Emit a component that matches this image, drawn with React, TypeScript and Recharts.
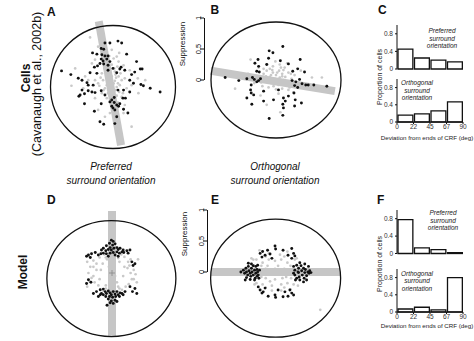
import React from "react";
import {
  ScatterChart,
  Scatter,
  XAxis,
  YAxis,
  ReferenceDot,
  BarChart,
  Bar,
} from "recharts";

type Pair = [number, number];
type Pt = { x: number; y: number };

const pts = (list: Pair[]): Pt[] => list.map(([x, y]) => ({ x, y }));

// positions in suppression units, origin = RF centre
const cellsPrefBlack: Pair[] = [
  [-0.13, 0.71], [-0.05, 0.71], [0.08, 0.74], [0.14, 0.71], [-0.19, 0.62], [-0.15, 0.61],
  [-0.33, 0.55], [-0.26, 0.53], [-0.18, 0.52], [-0.13, 0.5], [-0.08, 0.5], [0.22, 0.53],
  [-0.19, 0.45], [-0.16, 0.42], [-0.1, 0.45], [-0.05, 0.41], [-0.21, 0.38], [-0.15, 0.37],
  [-0.08, 0.35], [-0.25, 0.34], [-0.3, 0.32], [0.13, 0.32], [0.11, 0.29], [0.19, 0.27],
  [0.38, 0.41], [0.44, 0.29], [0.47, 0.29], [-0.83, 0.26], [-0.68, 0.2], [-0.37, 0.23],
  [-0.26, 0.22], [-0.08, 0.27], [0.0, 0.3], [0.06, 0.23], [0.3, 0.2], [0.35, 0.24],
  [-0.56, 0.14], [-0.5, 0.11], [-0.42, 0.07], [-0.4, 0.03], [-0.32, 0.03], [-0.34, -0.08],
  [-0.29, -0.09], [-0.5, -0.05], [-0.53, -0.13], [-0.55, -0.15], [-0.46, -0.11], [-0.4, -0.06],
  [-0.19, -0.06], [-0.13, -0.13], [0.08, -0.05], [0.17, -0.05], [0.27, -0.08], [0.2, -0.18],
  [0.16, -0.18], [0.02, -0.17], [-0.02, -0.21], [-0.05, -0.24], [0.02, -0.25], [0.06, -0.29],
  [0.09, -0.31], [-0.02, -0.31], [0.0, -0.34], [0.03, -0.37], [0.11, -0.27], [-0.19, -0.27],
  [-0.46, -0.27], [-0.3, -0.39], [0.17, -0.36], [0.24, -0.42], [0.33, 0.06], [0.45, 0.04],
  [0.49, 0.02], [0.6, -0.02], [0.76, -0.08], [0.27, 0.11], [-0.21, -0.56], [-0.15, -0.6],
  [0.03, -0.59], [0.06, -0.48],
];
const cellsPrefGray: Pair[] = [
  [-0.37, 0.8], [-0.18, 0.76], [-0.24, 0.65], [-0.1, 0.57], [-0.02, 0.6], [0.06, 0.49],
  [-0.29, 0.44], [0.01, 0.46], [-0.13, 0.33], [-0.05, 0.27], [0.03, 0.25], [-0.18, 0.22],
  [-0.1, 0.17], [-0.02, 0.17], [0.09, 0.17], [-0.16, 0.11], [-0.08, 0.09], [0.01, 0.06],
  [0.14, 0.11], [0.19, 0.14], [-0.24, 0.06], [-0.29, 0.11], [-0.05, 0.0], [0.06, 0.0],
  [-0.13, -0.02], [0.11, 0.03], [-0.18, -0.1], [-0.08, -0.1], [0.01, -0.1], [-0.29, -0.18],
  [-0.1, -0.18], [0.14, -0.16], [0.22, -0.02], [0.3, 0.03], [0.4, 0.14], [-0.4, 0.11],
  [-0.45, 0.17], [-0.67, 0.02], [-0.48, -0.02], [-0.24, -0.37], [0.17, -0.42], [0.3, -0.64],
  [-0.13, -0.48], [-0.05, -0.42], [0.19, -0.29], [0.41, -0.1], [0.52, 0.11], [-0.61, 0.3],
  [-0.34, 0.38], [0.09, 0.41], [0.17, 0.35], [0.27, 0.27], [0.0, 0.05], [-0.03, 0.12],
  [0.04, -0.05], [-0.07, 0.2], [0.02, 0.3], [-0.12, 0.4], [0.08, -0.25], [-0.02, -0.3],
  [0.05, 0.15], [-0.15, -0.05], [-0.06, 0.08], [0.03, 0.1], [-0.1, 0.03], [0.08, 0.06],
  [-0.04, -0.04], [0.1, -0.08], [-0.12, 0.26], [-0.02, 0.36], [0.04, 0.2], [-0.2, 0.15],
  [0.12, 0.22], [-0.08, -0.05], [0.0, -0.2], [0.06, -0.14], [-0.14, 0.3], [0.07, 0.33],
  [-0.22, 0.02], [0.16, -0.1], [-0.06, 0.5], [0.1, 0.55],
];
const cellsPrefAxis: Pair[] = [[-0.23, 1.06], [0.13, -0.94]];

const cellsOrthBlack: Pair[] = [
  [0.11, 0.54], [-0.11, 0.47], [-0.05, 0.44], [-0.29, 0.33], [-0.12, 0.35], [0.07, 0.31],
  [0.2, 0.26], [0.39, 0.33], [-0.34, 0.27], [-0.28, 0.22], [-0.15, 0.25], [0.35, 0.18],
  [0.46, 0.13], [-0.31, 0.14], [-0.27, 0.13], [0.27, 0.14], [-0.82, 0.04], [-0.6, -0.01],
  [-0.47, 0.02], [-0.38, 0.04], [-0.35, 0.01], [-0.28, -0.01], [-0.25, 0.02], [-0.4, -0.08],
  [-0.31, -0.03], [0.26, -0.01], [0.32, -0.03], [0.38, 0.01], [0.42, -0.06], [0.35, -0.12],
  [0.3, -0.09], [0.48, -0.08], [0.61, -0.08], [0.82, -0.1], [-0.41, -0.16], [-0.4, -0.21],
  [-0.36, -0.24], [-0.47, -0.29], [-0.2, -0.18], [-0.2, -0.34], [-0.39, -0.39], [-0.04, -0.32],
  [0.12, -0.29], [0.15, -0.34], [0.11, -0.39], [0.12, -0.45], [0.2, -0.26], [0.29, -0.21],
  [0.31, -0.32], [0.3, -0.42], [0.41, -0.37], [-0.11, -0.62], [0.11, -0.57], [0.04, -0.16],
  [0.52, -0.08],
];
const cellsOrthGray: Pair[] = [
  [-0.2, 0.1], [-0.15, 0.15], [-0.1, 0.05], [-0.05, 0.12], [0.0, 0.08], [0.05, 0.15],
  [0.1, 0.1], [0.15, 0.05], [0.2, 0.12], [-0.18, -0.02], [-0.08, -0.05], [0.02, -0.02],
  [0.08, -0.06], [0.18, -0.04], [0.25, 0.02], [-0.12, -0.12], [0.0, -0.15], [0.1, -0.14],
  [-0.22, -0.1], [0.22, -0.12], [-0.05, 0.22], [0.06, 0.25], [-0.14, 0.25], [0.14, 0.2],
  [-0.3, 0.05], [0.3, 0.08], [-0.02, 0.02], [0.12, 0.0], [-0.1, 0.18], [0.04, -0.22],
  [-0.41, 0.33], [-0.66, -0.14], [0.58, 0.04], [0.74, 0.04], [0.07, -0.52], [-0.15, -0.4],
  [-0.01, 0.3], [0.18, 0.27], [-0.28, 0.2], [0.35, -0.05], [-0.35, -0.05], [0.28, -0.2],
  [-0.25, -0.25], [0.4, 0.15], [-0.45, 0.1], [-0.08, 0.08], [0.06, 0.04], [0.12, 0.16],
  [-0.16, 0.06], [0.02, 0.12], [0.16, -0.08], [-0.04, -0.1], [0.08, 0.2], [-0.2, 0.18],
  [0.24, 0.1], [-0.12, 0.0], [0.04, -0.08], [0.1, 0.06], [-0.06, 0.16], [0.2, -0.16],
  [-0.24, -0.04],
];
const cellsOrthAxis: Pair[] = [[-1.05, 0.15], [0.95, -0.18]];

const modelPrefBlack: Pair[] = [
  [-0.01, 0.53], [0.02, 0.51], [-0.04, 0.48], [0.01, 0.45], [0.05, 0.47], [-0.09, 0.44],
  [-0.03, 0.41], [-0.14, 0.4], [-0.17, 0.37], [-0.1, 0.36], [-0.06, 0.38], [-0.01, 0.37],
  [0.03, 0.4], [0.08, 0.41], [0.1, 0.38], [0.13, 0.4], [0.18, 0.37], [0.16, 0.34],
  [0.08, 0.34], [0.02, 0.33], [-0.03, 0.32], [-0.09, 0.31], [-0.14, 0.32], [-0.18, 0.31],
  [0.12, 0.32], [0.19, 0.33], [0.24, 0.36], [0.26, 0.32], [0.29, 0.37], [-0.22, 0.29],
  [0.05, 0.29], [0.1, 0.27], [-0.06, 0.27], [-0.38, 0.29], [-0.33, 0.31], [-0.27, 0.33],
  [-0.41, 0.27], [-0.35, 0.25], [0.32, 0.18], [0.37, 0.15], [0.34, 0.12], [-0.38, -0.11],
  [-0.34, -0.15], [-0.41, -0.17], [0.29, -0.22], [0.37, -0.25], [0.33, -0.3], [0.4, -0.33],
  [-0.25, -0.3], [-0.19, -0.27], [-0.14, -0.26], [-0.11, -0.3], [-0.17, -0.33], [-0.09, -0.33],
  [-0.06, -0.29], [-0.03, -0.32], [-0.01, -0.35], [0.02, -0.3], [0.05, -0.34], [0.08, -0.3],
  [0.1, -0.35], [0.13, -0.32], [0.16, -0.33], [-0.14, -0.35], [-0.1, -0.38], [-0.04, -0.38],
  [0.01, -0.39], [0.06, -0.38], [0.12, -0.38], [0.18, -0.35], [0.21, -0.3], [-0.06, -0.42],
  [-0.01, -0.45], [0.05, -0.44], [-0.03, -0.48], [0.02, -0.49], [-0.08, -0.52], [-0.19, -0.35],
  [-0.3, -0.33], [-0.22, -0.38], [0.08, -0.46],
];
const modelPrefGray: Pair[] = [
  [-0.3, 0.2], [-0.35, 0.1], [-0.38, 0.0], [-0.33, -0.08], [-0.28, -0.15], [0.3, 0.22],
  [0.35, 0.05], [0.38, -0.02], [0.32, -0.1], [0.27, -0.18], [-0.2, 0.25], [0.2, 0.26],
  [-0.15, 0.15], [0.12, 0.18], [-0.22, -0.2], [0.22, -0.22], [-0.1, -0.2], [0.1, -0.22],
  [0.0, 0.22], [0.0, -0.2], [-0.05, 0.1], [0.05, -0.05], [0.02, 0.05], [-0.02, -0.08],
  [0.0, 0.15], [0.0, -0.12], [-0.25, 0.05], [0.25, 0.08], [-0.12, 0.3], [0.15, 0.3],
  [-0.15, -0.28], [0.16, -0.27], [-0.4, 0.18], [0.42, 0.22], [-0.4, -0.22], [0.4, -0.15],
  [-0.18, 0.05], [0.18, -0.05], [-0.08, 0.22], [0.08, -0.15], [-0.3, -0.05], [0.28, 0.12],
  [-0.25, 0.15], [0.26, 0.18], [-0.36, -0.14], [0.35, -0.1], [-0.1, 0.25], [0.1, 0.24],
  [-0.1, -0.25], [0.12, -0.25], [-0.3, 0.1], [0.3, 0.0], [-0.2, -0.1], [0.2, 0.1],
];
const modelPrefAxis: Pair[] = [[0, 1.0], [0, -1.03]];

const modelOrthBlack: Pair[] = [
  [-0.55, 0.0], [-0.51, 0.03], [-0.49, -0.02], [-0.47, 0.06], [-0.46, 0.0], [-0.44, -0.05],
  [-0.43, 0.09], [-0.42, 0.02], [-0.4, -0.02], [-0.39, -0.07], [-0.38, 0.06], [-0.37, 0.0],
  [-0.35, 0.1], [-0.35, -0.05], [-0.33, 0.03], [-0.32, -0.1], [-0.31, 0.09], [-0.31, -0.02],
  [-0.29, 0.04], [-0.29, -0.07], [-0.28, 0.0], [-0.28, 0.11], [-0.27, -0.05], [-0.4, -0.12],
  [-0.46, -0.09], [-0.48, -0.13], [-0.33, -0.13], [-0.25, 0.03], [-0.26, -0.1], [-0.43, 0.14],
  [-0.38, 0.13], [0.3, 0.09], [0.32, 0.03], [0.32, -0.05], [0.35, 0.11], [0.35, -0.1],
  [0.38, 0.06], [0.38, -0.01], [0.39, -0.08], [0.4, -0.13], [0.42, 0.1], [0.43, 0.02],
  [0.44, -0.05], [0.46, 0.06], [0.47, -0.1], [0.48, 0.13], [0.48, -0.01], [0.49, 0.04],
  [0.51, -0.06], [0.53, 0.0], [0.54, 0.09], [0.55, -0.02], [0.56, 0.02], [0.58, -0.01],
  [0.33, -0.13], [0.4, 0.15], [0.46, -0.16], [0.3, -0.02], [0.37, 0.0], [0.51, -0.13],
  [-0.24, 0.3], [-0.2, 0.33], [-0.16, 0.27], [-0.12, 0.35], [-0.08, 0.29], [0.0, 0.42],
  [0.01, 0.37], [0.13, 0.35], [0.27, 0.38], [0.3, 0.3], [0.32, 0.26], [0.27, 0.22],
  [-0.21, 0.24], [-0.05, 0.22], [0.21, 0.27], [-0.27, -0.24], [-0.24, -0.29], [-0.21, -0.34],
  [-0.19, -0.32], [-0.11, -0.39], [0.0, -0.37], [0.01, -0.41], [0.13, -0.4], [0.16, -0.32],
  [0.24, -0.29], [0.27, -0.34], [0.3, -0.37], [0.21, -0.39], [-0.16, -0.26], [0.05, -0.29],
];
const modelOrthGray: Pair[] = [
  [-0.2, 0.15], [-0.1, 0.2], [0.0, 0.18], [0.1, 0.2], [0.2, 0.15], [-0.15, 0.05],
  [0.0, 0.05], [0.15, 0.05], [-0.2, -0.02], [-0.05, 0.0], [0.08, -0.02], [0.22, 0.0],
  [-0.15, -0.1], [0.0, -0.12], [0.12, -0.1], [-0.2, -0.2], [-0.05, -0.22], [0.1, -0.2],
  [0.2, -0.18], [-0.3, 0.2], [0.32, 0.2], [-0.3, -0.18], [0.3, -0.2], [-0.1, 0.3],
  [0.08, 0.28], [-0.05, -0.3], [0.1, -0.3], [-0.25, 0.35], [0.2, 0.33], [-0.12, 0.1],
  [0.05, 0.1], [0.18, -0.08], [-0.08, -0.15], [0.73, -0.61], [-0.38, 0.22], [0.25, -0.28],
  [-0.22, 0.1], [0.25, 0.1], [-0.22, -0.08], [0.26, -0.1], [-0.15, 0.25], [0.15, 0.25],
  [-0.15, -0.25], [0.15, -0.25], [-0.35, 0.2], [0.35, 0.22], [-0.33, -0.2], [0.37, -0.22],
];
const modelOrthAxis: Pair[] = [[-1.03, 0], [1.05, 0]];

// histograms: deviation from ends of CRF, bins of 22.5 deg
const binCentres = [11.25, 33.75, 56.25, 78.75];
const binTicks = [0, 22.5, 45, 67.5, 90];
const cellsPrefHist = [0.45, 0.25, 0.2, 0.16];
const cellsOrthHist = [0.16, 0.19, 0.26, 0.47];
const modelPrefHist = [0.78, 0.13, 0.09, 0.02];
const modelOrthHist = [0.07, 0.11, 0.05, 0.8];

const INK = "#111";
const GRAY_DOT = "#c9c9c9";
const BAND = "#c6c6c6";
const FONT = "'Liberation Sans', Arial, Helvetica, sans-serif";
const K = 62; // px per suppression unit

const blackDot = (p: any) => <circle cx={p.cx} cy={p.cy} r={1.45} fill={INK} />;
const grayDot = (p: any) => <circle cx={p.cx} cy={p.cy} r={1.35} fill={GRAY_DOT} />;
const noDot = () => <g />;

const RotTick = (p: any) => (
  <text
    x={p.x + 1}
    y={p.y}
    transform={`rotate(-90 ${p.x + 1} ${p.y})`}
    textAnchor="middle"
    fontSize={7.5}
    fill={INK}
  >
    {p.payload.value}
  </text>
);

interface PanelProps {
  black: Pair[];
  gray: Pair[];
  axis: Pair[];
  origin: [number, number];
  box: { L: number; T: number; R: number; B: number };
  ring: { cx: number; cy: number; rx: number; ry: number };
  scaleBar?: boolean;
  cross?: boolean;
}

function ScatterPanel({ black, gray, axis, origin, box, ring, scaleBar, cross }: PanelProps) {
  const [ox, oy] = origin;
  const { L, T, R, B } = box;
  const yW = scaleBar ? 26 : 0;
  const xDomain: [number, number] = [(L - ox) / K, (R - ox) / K];
  const yDomain: [number, number] = [(oy - B) / K, (oy - T) / K];
  const barX = xDomain[0] + 0.5 / K;
  const bar: Pair[] = [[barX, 0], [barX, 1]];
  return (
    <div style={{ position: "absolute", left: L - yW, top: T }}>
      <ScatterChart width={R - L + yW} height={B - T} margin={{ top: 0, right: 0, bottom: 0, left: 0 }}>
        <XAxis type="number" dataKey="x" domain={xDomain} allowDataOverflow hide />
        <YAxis
          type="number"
          dataKey="y"
          domain={yDomain}
          allowDataOverflow
          hide={!scaleBar}
          width={yW}
          ticks={[0, 0.5, 1]}
          interval={0}
          axisLine={false}
          tickLine={{ stroke: INK }}
          tickSize={4}
          tickMargin={0}
          tick={RotTick}
        />
        <Scatter data={pts(gray)} shape={grayDot} isAnimationActive={false} />
        <Scatter
          data={pts(axis)}
          shape={noDot}
          line={{ stroke: BAND, strokeWidth: 8 }}
          lineType="joint"
          isAnimationActive={false}
        />
        <Scatter data={pts(black)} shape={blackDot} isAnimationActive={false} />
        {scaleBar && (
          <Scatter
            data={pts(bar)}
            shape={noDot}
            line={{ stroke: INK, strokeWidth: 1 }}
            lineType="joint"
            isAnimationActive={false}
          />
        )}
        <ReferenceDot
          x={ring.cx}
          y={ring.cy}
          ifOverflow="visible"
          shape={(p: any) => (
            <ellipse cx={p.cx} cy={p.cy} rx={ring.rx} ry={ring.ry} fill="none" stroke={INK} strokeWidth={1.3} />
          )}
        />
        {cross && (
          <ReferenceDot
            x={0}
            y={0}
            ifOverflow="visible"
            shape={(p: any) => (
              <path d={`M${p.cx - 3},${p.cy}H${p.cx + 3}M${p.cx},${p.cy - 3}V${p.cy + 3}`} stroke="#888" strokeWidth={0.8} />
            )}
          />
        )}
      </ScatterChart>
    </div>
  );
}

function Hist({ values, top, plotH, showX }: { values: number[]; top: number; plotH: number; showX?: boolean }) {
  const data = binCentres.map((bin, i) => ({ bin, v: values[i] }));
  const yW = 16;
  const plotW = 66;
  const bottom = showX ? 14 : 6;
  return (
    <div style={{ position: "absolute", left: 397 - yW, top }}>
      <BarChart
        width={yW + plotW + 6}
        height={plotH + bottom}
        data={data}
        margin={{ top: 0, right: 6, bottom: showX ? 0 : bottom, left: 0 }}
      >
        <XAxis
          type="number"
          dataKey="bin"
          domain={[0, 90]}
          ticks={binTicks}
          interval={0}
          tickFormatter={(v: number) => String(Math.floor(v))}
          hide={!showX}
          height={14}
          axisLine={{ stroke: INK }}
          tickLine={{ stroke: INK }}
          tickSize={2}
          tickMargin={0}
          tick={{ fontSize: 6.5, fill: "#333" }}
        />
        <YAxis
          type="number"
          domain={[0, 1]}
          ticks={[0, 0.4, 0.8]}
          interval={0}
          width={yW}
          axisLine={{ stroke: INK }}
          tickLine={{ stroke: INK }}
          tickSize={2}
          tickMargin={2}
          tick={{ fontSize: 6.5, fill: "#333" }}
        />
        <Bar dataKey="v" fill="#fff" stroke={INK} strokeWidth={1.3} barSize={plotW / 4} isAnimationActive={false} />
      </BarChart>
    </div>
  );
}

const rot = (x: number, y: number) => `rotate(-90 ${x} ${y})`;

function Labels() {
  const note = (lines: string[], x: number, ys: number[]) =>
    lines.map((s, i) => (
      <text key={s} x={x} y={ys[i]} fontSize={6.5} fontStyle="italic" textAnchor="middle" fill="#222">
        {s}
      </text>
    ));
  return (
    <svg width={474} height={341} style={{ position: "absolute", left: 0, top: 0 }} fontFamily={FONT} fill={INK}>
      <text x={47} y={15.5} fontSize={12} fontWeight="bold">A</text>
      <text x={210.5} y={13.5} fontSize={12} fontWeight="bold">B</text>
      <text x={378} y={14} fontSize={12} fontWeight="bold">C</text>
      <text x={47} y={204} fontSize={12} fontWeight="bold">D</text>
      <text x={211} y={204} fontSize={12} fontWeight="bold">E</text>
      <text x={377} y={204} fontSize={12} fontWeight="bold">F</text>

      <text x={29.5} y={78} transform={rot(29.5, 78)} fontSize={12} fontWeight="bold" textAnchor="middle">Cells</text>
      <text x={40.5} y={84} transform={rot(40.5, 84)} fontSize={12.5} textAnchor="middle">(Cavanaugh et al., 2002b)</text>
      <text x={27} y={272} transform={rot(27, 272)} fontSize={12} fontWeight="bold" textAnchor="middle">Model</text>

      <text x={111} y={170} fontSize={10} fontStyle="italic" textAnchor="middle">Preferred</text>
      <text x={111} y={183.5} fontSize={10} fontStyle="italic" textAnchor="middle">surround orientation</text>
      <text x={275} y={170} fontSize={10} fontStyle="italic" textAnchor="middle">Orthogonal</text>
      <text x={275} y={183.5} fontSize={10} fontStyle="italic" textAnchor="middle">surround orientation</text>

      <text x={185} y={44} transform={rot(185, 44)} fontSize={8} textAnchor="middle">Suppression</text>
      <text x={186.5} y={234} transform={rot(186.5, 234)} fontSize={8} textAnchor="middle">Suppression</text>

      {note(["Preferred", "surround", "orientation"], 442, [33, 40.7, 48.4])}
      {note(["Orthogonal", "surround", "orientation"], 417, [85, 92.7, 100.4])}
      {note(["Preferred", "surround", "orientation"], 443, [215, 222.7, 230.4])}
      {note(["Orthogonal", "surround", "orientation"], 417, [275.5, 283.2, 290.9])}

      <text x={382} y={77} transform={rot(382, 77)} fontSize={7} textAnchor="middle" fill="#222">Proportion of cells</text>
      <text x={382} y={264} transform={rot(382, 264)} fontSize={7} textAnchor="middle" fill="#222">Proportion of cells</text>
      <text x={427} y={139.5} fontSize={6.2} textAnchor="middle" fill="#222">Deviation from ends of CRF (deg)</text>
      <text x={427} y={327.5} fontSize={6.2} textAnchor="middle" fill="#222">Deviation from ends of CRF (deg)</text>
    </svg>
  );
}

export default function App() {
  return (
    <div
      style={{
        position: "absolute",
        left: 0,
        top: 0,
        width: 474,
        height: 341,
        background: "#fff",
        overflow: "hidden",
        fontFamily: FONT,
      }}
    >
      <ScatterPanel
        black={cellsPrefBlack}
        gray={cellsPrefGray}
        axis={cellsPrefAxis}
        origin={[113, 87]}
        box={{ L: 46, T: 18, R: 180, B: 152 }}
        ring={{ cx: 0, cy: 0, rx: 62.5, ry: 61.5 }}
      />
      <ScatterPanel
        black={cellsOrthBlack}
        gray={cellsOrthGray}
        axis={cellsOrthAxis}
        origin={[276, 80]}
        box={{ L: 204, T: 15, R: 345, B: 142 }}
        ring={{ cx: 0, cy: 0, rx: 65, ry: 58 }}
        scaleBar
      />
      <ScatterPanel
        black={modelPrefBlack}
        gray={modelPrefGray}
        axis={modelPrefAxis}
        origin={[112, 273]}
        box={{ L: 44, T: 205, R: 180, B: 341 }}
        ring={{ cx: -0.01, cy: -0.09, rx: 64.5, ry: 58 }}
        cross
      />
      <ScatterPanel
        black={modelOrthBlack}
        gray={modelOrthGray}
        axis={modelOrthAxis}
        origin={[275, 272]}
        box={{ L: 207, T: 205, R: 344, B: 341 }}
        ring={{ cx: 0.01, cy: -0.1, rx: 65, ry: 59 }}
        scaleBar
      />
      <Hist values={cellsPrefHist} top={25} plotH={44} />
      <Hist values={cellsOrthHist} top={79} plotH={43} showX />
      <Hist values={modelPrefHist} top={210} plotH={43.5} />
      <Hist values={modelOrthHist} top={269} plotH={43} showX />
      <Labels />
    </div>
  );
}
